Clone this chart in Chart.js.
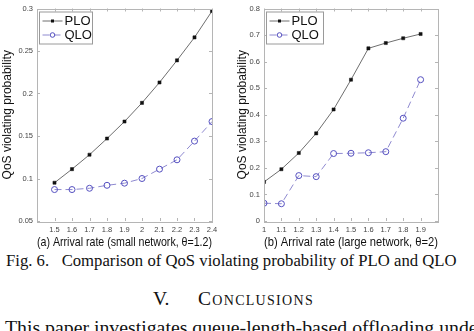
<!DOCTYPE html>
<html>
<head>
<meta charset="utf-8">
<script src="https://cdn.jsdelivr.net/npm/chart.js@4/dist/chart.umd.min.js"></script>
<style>
  html, body { margin: 0; padding: 0; background: #fff; width: 474px; height: 331px; overflow: hidden; }
  .panel { position: absolute; top: 0; height: 250px; }
  #left { left: 0; width: 235px; }
  #right { left: 235px; width: 239px; }
  .txt { position: absolute; font-family: "Liberation Serif", "Times New Roman", serif; color: #111; white-space: nowrap; }
  #caption { left: 6px; top: 253px; font-size: 16.7px; line-height: 16.7px; }
  #sec-num { left: 153px; top: 288.5px; font-size: 19.5px; line-height: 19.5px; }
  #sec-name { left: 198px; top: 288.5px; font-size: 19.5px; line-height: 19.5px; font-variant: small-caps; letter-spacing: 1.3px; }
  #body { left: 5px; top: 318px; font-size: 19.8px; line-height: 19.8px; }
</style>
</head>
<body>
<div class="panel" id="left"><canvas id="chart-a"></canvas></div>
<div class="panel" id="right"><canvas id="chart-b"></canvas></div>
<div class="txt" id="caption">Fig. 6.&nbsp;&nbsp; Comparison of QoS violating probability of PLO and QLO</div>
<div class="txt" id="sec-num">V.</div>
<div class="txt" id="sec-name">Conclusions</div>
<div class="txt" id="body">This paper investigates queue-length-based offloading under</div>
<script>
// (a) small network
const ratesA = [1.5, 1.6, 1.7, 1.8, 1.9, 2.0, 2.1, 2.2, 2.3, 2.4];
const ploA = [0.095, 0.111, 0.128, 0.147, 0.167, 0.189, 0.213, 0.239, 0.266, 0.297];
const qloA = [0.087, 0.087, 0.0885, 0.092, 0.0945, 0.100, 0.111, 0.122, 0.144, 0.167];
const yTicksA = [0.05, 0.1, 0.15, 0.2, 0.25, 0.3];

// (b) large network
const ratesB = [1.0, 1.1, 1.2, 1.3, 1.4, 1.5, 1.6, 1.7, 1.8, 1.9];
const ploB = [0.147, 0.195, 0.256, 0.330, 0.420, 0.532, 0.650, 0.670, 0.688, 0.704];
const qloB = [0.067, 0.065, 0.171, 0.167, 0.254, 0.255, 0.257, 0.261, 0.387, 0.532];
const yTicksB = [0, 0.1, 0.2, 0.3, 0.4, 0.5, 0.6, 0.7, 0.8];

const seriesNames = ["PLO", "QLO"];

// matlab-like box with inward ticks, plus a framed legend in the top-left corner
const boxPlugin = {
  id: 'box',
  afterDatasetsDraw(chart) {
    const ctx = chart.ctx;
    const a = chart.chartArea;
    const xs = chart.scales.x, ys = chart.scales.y;
    ctx.save();
    ctx.strokeStyle = '#b5b5b5';
    ctx.lineWidth = 1;
    ctx.strokeRect(Math.round(a.left) + 0.5, Math.round(a.top) + 0.5, Math.round(a.right - a.left), Math.round(a.bottom - a.top));
    ctx.beginPath();
    xs.ticks.forEach(t => {
      const px = Math.round(xs.getPixelForValue(t.value)) + 0.5;
      ctx.moveTo(px, a.bottom); ctx.lineTo(px, a.bottom - 3);
      ctx.moveTo(px, a.top); ctx.lineTo(px, a.top + 3);
    });
    ys.ticks.forEach(t => {
      const py = Math.round(ys.getPixelForValue(t.value)) + 0.5;
      ctx.moveTo(a.left, py); ctx.lineTo(a.left + 3, py);
      ctx.moveTo(a.right, py); ctx.lineTo(a.right - 3, py);
    });
    ctx.stroke();

    // legend
    const opts = chart.options.plugins.box;
    const lx = a.left + 2.5, ly = a.top + 3.5;
    ctx.fillStyle = '#fff';
    ctx.fillRect(lx, ly, opts.width, 32);
    ctx.strokeStyle = '#9a9a9a';
    ctx.strokeRect(lx, ly, opts.width, 32);
    ctx.font = '13px "Liberation Sans", Arial, sans-serif';
    ctx.textBaseline = 'middle';
    chart.data.datasets.forEach((ds, i) => {
      const cy = ly + 9 + i * 14;
      ctx.strokeStyle = ds.borderColor;
      ctx.setLineDash(ds.borderDash || []);
      ctx.beginPath();
      ctx.moveTo(lx + 3, cy); ctx.lineTo(lx + 23, cy);
      ctx.stroke();
      ctx.setLineDash([]);
      if (ds.pointStyle === 'rect') {
        ctx.fillStyle = ds.pointBackgroundColor;
        ctx.fillRect(lx + 11.5, cy - 1.5, 3, 3);
      } else {
        ctx.strokeStyle = ds.pointBorderColor;
        ctx.fillStyle = '#fff';
        ctx.beginPath();
        ctx.arc(lx + 13, cy, 2.3, 0, Math.PI * 2);
        ctx.fill(); ctx.stroke();
      }
      ctx.fillStyle = '#111';
      ctx.fillText(ds.label, lx + 25, cy + 0.5);
    });
    ctx.restore();
  }
};

function makeChart(id, rates, plo, qlo, yTicks, xMin, xMax, yMin, yMax, xTitle, yWidth, padRight, legendWidth) {
  const tickFont = { family: '"Liberation Sans", Arial, sans-serif', size: 7.5 };
  return new Chart(document.getElementById(id), {
    type: 'line',
    data: {
      datasets: [
        {
          label: seriesNames[0],
          data: rates.map((r, i) => ({ x: r, y: plo[i] })),
          borderColor: '#6e6e6e',
          borderWidth: 1,
          pointStyle: 'rect',
          pointRadius: 2.2,
          pointBackgroundColor: '#111',
          pointBorderColor: '#111',
          pointBorderWidth: 0.5,
          tension: 0
        },
        {
          label: seriesNames[1],
          data: rates.map((r, i) => ({ x: r, y: qlo[i] })),
          borderColor: '#8f8ad0',
          borderWidth: 1,
          borderDash: [7, 4],
          pointStyle: 'circle',
          pointRadius: 3,
          pointBackgroundColor: 'rgba(255,255,255,0)',
          pointBorderColor: '#5550c0',
          pointBorderWidth: 1,
          tension: 0
        }
      ]
    },
    options: {
      responsive: false,
      animation: false,
      layout: { padding: { top: 0, right: padRight, left: 0, bottom: 0 } },
      plugins: {
        legend: { display: false },
        tooltip: { enabled: false },
        box: { width: legendWidth }
      },
      scales: {
        x: {
          type: 'linear',
          min: xMin, max: xMax,
          afterBuildTicks: s => { s.ticks = rates.map(v => ({ value: v })); },
          afterFit: s => { s.height = 29; },
          grid: { display: false, drawTicks: false },
          border: { display: false },
          ticks: { font: tickFont, color: '#444', padding: 4, maxRotation: 0, autoSkip: false, callback: v => String(v) },
          title: { display: true, text: xTitle, color: '#111', font: { family: '"Liberation Sans", Arial, sans-serif', size: 13 }, padding: { top: 1, bottom: 0 } }
        },
        y: {
          min: yMin, max: yMax,
          afterBuildTicks: s => { s.ticks = yTicks.map(v => ({ value: v })); },
          afterFit: s => { s.width = yWidth; },
          grid: { display: false, drawTicks: false },
          border: { display: false },
          ticks: { font: tickFont, color: '#444', padding: 4, callback: v => String(v) },
          title: { display: true, text: 'QoS violating probability', color: '#111', font: { family: '"Liberation Sans", Arial, sans-serif', size: 12 }, padding: 0 }
        }
      }
    },
    plugins: [boxPlugin]
  });
}

function sizeCanvas(id, w, h) {
  const c = document.getElementById(id);
  c.width = w; c.height = h;
  c.style.width = w + 'px'; c.style.height = h + 'px';
}
sizeCanvas('chart-a', 235, 250);
sizeCanvas('chart-b', 239, 250);

makeChart('chart-a', ratesA, ploA, qloA, yTicksA, 1.4, 2.4, 0.05, 0.3,
  '(a) Arrival rate (small network, θ=1.2)', 37, 23, 53);
makeChart('chart-b', ratesB, ploB, qloB, yTicksB, 1.0, 2.0, 0, 0.8,
  '(b) Arrival rate (large network, θ=2)', 29, 36, 57);
</script>
</body>
</html>
